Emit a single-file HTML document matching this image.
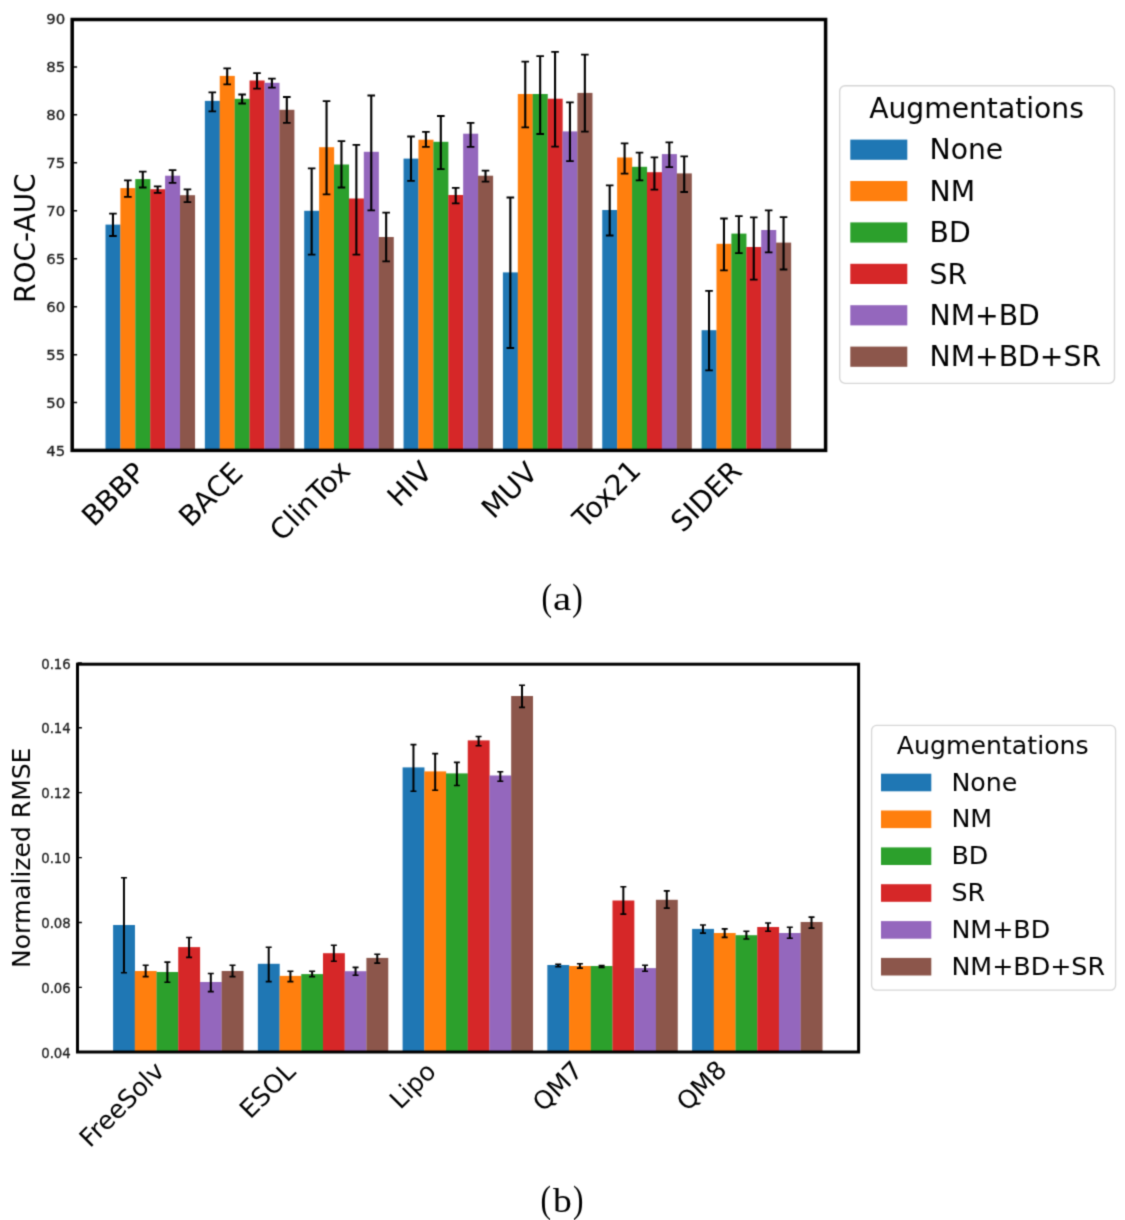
<!DOCTYPE html>
<html lang="en"><head><meta charset="utf-8"><title>Augmentations</title>
<style>html,body{margin:0;padding:0;background:#fff}svg{display:block}text{font-family:'DejaVu Sans','Liberation Sans',sans-serif;fill:#000}.tk{fill:#1c1c1c;stroke:#1c1c1c;stroke-width:.3px}.cap{font-family:'Liberation Serif','DejaVu Serif',serif}</style>
</head><body>
<svg width="1125" height="1220" viewBox="0 0 1125 1220">
<defs><filter id="soft" x="0" y="0" width="1125" height="1220" filterUnits="userSpaceOnUse" color-interpolation-filters="sRGB"><feConvolveMatrix order="3" kernelMatrix="1 4 1 4 16 4 1 4 1" divisor="36" edgeMode="duplicate" preserveAlpha="true"/></filter></defs>
<rect width="1125" height="1220" fill="#fff"/>
<g filter="url(#soft)">
<rect x="-5" y="-5" width="1135" height="1230" fill="#fff"/>
<g id="chart-a">
<rect x="105.50" y="224.60" width="15.05" height="225.80" fill="#1f77b4"/>
<rect x="120.40" y="188.10" width="15.05" height="262.30" fill="#ff7f0e"/>
<rect x="135.31" y="179.10" width="15.05" height="271.30" fill="#2ca02c"/>
<rect x="150.21" y="189.20" width="15.05" height="261.20" fill="#d62728"/>
<rect x="165.11" y="175.70" width="15.05" height="274.70" fill="#9467bd"/>
<rect x="180.01" y="195.20" width="15.05" height="255.20" fill="#8c564b"/>
<rect x="204.85" y="100.90" width="15.05" height="349.50" fill="#1f77b4"/>
<rect x="219.75" y="75.90" width="15.05" height="374.50" fill="#ff7f0e"/>
<rect x="234.66" y="98.80" width="15.05" height="351.60" fill="#2ca02c"/>
<rect x="249.56" y="80.50" width="15.05" height="369.90" fill="#d62728"/>
<rect x="264.46" y="82.80" width="15.05" height="367.60" fill="#9467bd"/>
<rect x="279.36" y="109.80" width="15.05" height="340.60" fill="#8c564b"/>
<rect x="304.20" y="210.80" width="15.05" height="239.60" fill="#1f77b4"/>
<rect x="319.10" y="147.20" width="15.05" height="303.20" fill="#ff7f0e"/>
<rect x="334.00" y="164.50" width="15.05" height="285.90" fill="#2ca02c"/>
<rect x="348.91" y="198.50" width="15.05" height="251.90" fill="#d62728"/>
<rect x="363.81" y="151.80" width="15.05" height="298.60" fill="#9467bd"/>
<rect x="378.71" y="237.00" width="15.05" height="213.40" fill="#8c564b"/>
<rect x="403.55" y="158.60" width="15.05" height="291.80" fill="#1f77b4"/>
<rect x="418.45" y="139.70" width="15.05" height="310.70" fill="#ff7f0e"/>
<rect x="433.35" y="141.80" width="15.05" height="308.60" fill="#2ca02c"/>
<rect x="448.26" y="195.00" width="15.05" height="255.40" fill="#d62728"/>
<rect x="463.16" y="133.70" width="15.05" height="316.70" fill="#9467bd"/>
<rect x="478.06" y="175.70" width="15.05" height="274.70" fill="#8c564b"/>
<rect x="502.90" y="272.40" width="15.05" height="178.00" fill="#1f77b4"/>
<rect x="517.80" y="94.00" width="15.05" height="356.40" fill="#ff7f0e"/>
<rect x="532.70" y="94.00" width="15.05" height="356.40" fill="#2ca02c"/>
<rect x="547.61" y="98.70" width="15.05" height="351.70" fill="#d62728"/>
<rect x="562.51" y="131.40" width="15.05" height="319.00" fill="#9467bd"/>
<rect x="577.41" y="92.90" width="15.05" height="357.50" fill="#8c564b"/>
<rect x="602.25" y="210.00" width="15.05" height="240.40" fill="#1f77b4"/>
<rect x="617.15" y="157.50" width="15.05" height="292.90" fill="#ff7f0e"/>
<rect x="632.05" y="166.80" width="15.05" height="283.60" fill="#2ca02c"/>
<rect x="646.96" y="172.20" width="15.05" height="278.20" fill="#d62728"/>
<rect x="661.86" y="154.10" width="15.05" height="296.30" fill="#9467bd"/>
<rect x="676.76" y="173.40" width="15.05" height="277.00" fill="#8c564b"/>
<rect x="701.60" y="330.20" width="15.05" height="120.20" fill="#1f77b4"/>
<rect x="716.50" y="243.80" width="15.05" height="206.60" fill="#ff7f0e"/>
<rect x="731.40" y="233.60" width="15.05" height="216.80" fill="#2ca02c"/>
<rect x="746.31" y="247.00" width="15.05" height="203.40" fill="#d62728"/>
<rect x="761.21" y="230.00" width="15.05" height="220.40" fill="#9467bd"/>
<rect x="776.11" y="242.60" width="15.05" height="207.80" fill="#8c564b"/>
<path d="M112.95 213.60V236.00M127.85 180.40V196.80M142.76 171.60V187.50M157.66 186.40V192.90M172.56 170.10V182.80M187.46 189.40V202.20M212.30 92.30V111.30M227.20 68.40V84.30M242.11 94.50V103.50M257.01 73.10V88.60M271.91 78.70V87.60M286.81 97.00V122.90M311.65 168.30V254.70M326.55 101.10V194.40M341.46 141.20V187.50M356.36 144.90V254.70M371.26 95.50V210.30M386.16 212.70V261.30M411.00 136.50V180.80M425.90 131.90V146.80M440.81 116.00V169.20M455.71 187.90V203.40M470.61 122.90V146.80M485.51 170.70V181.70M510.35 197.50V348.00M525.25 61.70V127.40M540.16 56.10V134.00M555.06 51.80V146.70M569.96 102.40V161.20M584.86 54.60V131.70M609.70 185.30V235.50M624.60 143.30V173.70M639.51 152.60V180.30M654.41 157.30V189.60M669.31 142.40V167.20M684.21 156.40V192.00M709.05 290.90V370.30M723.95 218.50V270.30M738.86 216.10V253.10M753.76 217.40V279.70M768.66 210.40V252.40M783.56 217.10V269.50" stroke="#000" stroke-width="2.1" fill="none"/>
<path d="M109.15 213.60H116.75M109.15 236.00H116.75M124.05 180.40H131.65M124.05 196.80H131.65M138.96 171.60H146.56M138.96 187.50H146.56M153.86 186.40H161.46M153.86 192.90H161.46M168.76 170.10H176.36M168.76 182.80H176.36M183.66 189.40H191.26M183.66 202.20H191.26M208.50 92.30H216.10M208.50 111.30H216.10M223.40 68.40H231.00M223.40 84.30H231.00M238.31 94.50H245.91M238.31 103.50H245.91M253.21 73.10H260.81M253.21 88.60H260.81M268.11 78.70H275.71M268.11 87.60H275.71M283.01 97.00H290.61M283.01 122.90H290.61M307.85 168.30H315.45M307.85 254.70H315.45M322.75 101.10H330.35M322.75 194.40H330.35M337.66 141.20H345.26M337.66 187.50H345.26M352.56 144.90H360.16M352.56 254.70H360.16M367.46 95.50H375.06M367.46 210.30H375.06M382.36 212.70H389.96M382.36 261.30H389.96M407.20 136.50H414.80M407.20 180.80H414.80M422.10 131.90H429.70M422.10 146.80H429.70M437.01 116.00H444.61M437.01 169.20H444.61M451.91 187.90H459.51M451.91 203.40H459.51M466.81 122.90H474.41M466.81 146.80H474.41M481.71 170.70H489.31M481.71 181.70H489.31M506.55 197.50H514.15M506.55 348.00H514.15M521.45 61.70H529.05M521.45 127.40H529.05M536.36 56.10H543.96M536.36 134.00H543.96M551.26 51.80H558.86M551.26 146.70H558.86M566.16 102.40H573.76M566.16 161.20H573.76M581.06 54.60H588.66M581.06 131.70H588.66M605.90 185.30H613.50M605.90 235.50H613.50M620.80 143.30H628.40M620.80 173.70H628.40M635.71 152.60H643.31M635.71 180.30H643.31M650.61 157.30H658.21M650.61 189.60H658.21M665.51 142.40H673.11M665.51 167.20H673.11M680.41 156.40H688.01M680.41 192.00H688.01M705.25 290.90H712.85M705.25 370.30H712.85M720.15 218.50H727.75M720.15 270.30H727.75M735.06 216.10H742.66M735.06 253.10H742.66M749.96 217.40H757.56M749.96 279.70H757.56M764.86 210.40H772.46M764.86 252.40H772.46M779.76 217.10H787.36M779.76 269.50H787.36" stroke="#000" stroke-width="1.8" fill="none"/>
<rect x="72.2" y="19.5" width="753.40" height="430.90" fill="none" stroke="#000" stroke-width="3.5"/>
<text class="tk" x="65.2" y="24.3" font-size="14.9" text-anchor="end">90</text>
<text class="tk" x="65.2" y="72.3" font-size="14.9" text-anchor="end">85</text>
<text class="tk" x="65.2" y="120.3" font-size="14.9" text-anchor="end">80</text>
<text class="tk" x="65.2" y="168.2" font-size="14.9" text-anchor="end">75</text>
<text class="tk" x="65.2" y="216.2" font-size="14.9" text-anchor="end">70</text>
<text class="tk" x="65.2" y="264.1" font-size="14.9" text-anchor="end">65</text>
<text class="tk" x="65.2" y="312.1" font-size="14.9" text-anchor="end">60</text>
<text class="tk" x="65.2" y="360.1" font-size="14.9" text-anchor="end">55</text>
<text class="tk" x="65.2" y="408.0" font-size="14.9" text-anchor="end">50</text>
<text class="tk" x="65.2" y="456.0" font-size="14.9" text-anchor="end">45</text>
<path d="M72.2 18.94h4.9M72.2 66.9h4.9M72.2 114.86h4.9M72.2 162.82h4.9M72.2 210.78h4.9M72.2 258.74h4.9M72.2 306.7h4.9M72.2 354.66h4.9M72.2 402.62h4.9M72.2 450.58h4.9" stroke="#000" stroke-width="1.5"/>
<text transform="translate(35.3,238.2) rotate(-90)" font-size="28" text-anchor="middle">ROC-AUC</text>
<text transform="translate(147,474.5) rotate(-45)" font-size="28.3" text-anchor="end">BBBP</text>
<text transform="translate(244.4,474.5) rotate(-45)" font-size="28.3" text-anchor="end">BACE</text>
<text transform="translate(351.8,472.5) rotate(-45)" font-size="28.3" text-anchor="end">ClinTox</text>
<text transform="translate(433.8,473.5) rotate(-45)" font-size="28.3" text-anchor="end">HIV</text>
<text transform="translate(539.2,474.3) rotate(-45)" font-size="28.3" text-anchor="end">MUV</text>
<text transform="translate(642.5,472.1) rotate(-45)" font-size="28.3" text-anchor="end">Tox21</text>
<text transform="translate(743.4,472.9) rotate(-45)" font-size="28.3" text-anchor="end">SIDER</text>
<rect x="839.7" y="85.7" width="274.8" height="297.7" rx="5.5" fill="#fff" stroke="#d6d6d6" stroke-width="1.4"/>
<text x="976.5" y="118" font-size="28.2" text-anchor="middle">Augmentations</text>
<rect x="850.3" y="139.6" width="57" height="20.2" fill="#1f77b4"/>
<text x="929.5" y="159.3" font-size="28.25">None</text>
<rect x="850.3" y="181.0" width="57" height="20.2" fill="#ff7f0e"/>
<text x="929.5" y="200.7" font-size="28.25">NM</text>
<rect x="850.3" y="222.4" width="57" height="20.2" fill="#2ca02c"/>
<text x="929.5" y="242.1" font-size="28.25">BD</text>
<rect x="850.3" y="263.8" width="57" height="20.2" fill="#d62728"/>
<text x="929.5" y="283.5" font-size="28.25">SR</text>
<rect x="850.3" y="305.2" width="57" height="20.2" fill="#9467bd"/>
<text x="929.5" y="324.9" font-size="28.25">NM+BD</text>
<rect x="850.3" y="346.6" width="57" height="20.2" fill="#8c564b"/>
<text x="929.5" y="366.3" font-size="28.25">NM+BD+SR</text>
<text class="cap" y="609.6" font-size="38.5"><tspan x="541.6" textLength="10.5" lengthAdjust="spacingAndGlyphs">(</tspan><tspan x="552.9" font-size="33.6" textLength="18.2" lengthAdjust="spacingAndGlyphs">a</tspan><tspan x="572.2" font-size="38.5" textLength="10.5" lengthAdjust="spacingAndGlyphs">)</tspan></text>
</g>
<g id="chart-b">
<rect x="113.10" y="925.00" width="21.86" height="127.00" fill="#1f77b4"/>
<rect x="134.81" y="971.00" width="21.86" height="81.00" fill="#ff7f0e"/>
<rect x="156.52" y="972.00" width="21.86" height="80.00" fill="#2ca02c"/>
<rect x="178.24" y="947.10" width="21.86" height="104.90" fill="#d62728"/>
<rect x="199.95" y="982.00" width="21.86" height="70.00" fill="#9467bd"/>
<rect x="221.66" y="971.00" width="21.86" height="81.00" fill="#8c564b"/>
<rect x="257.85" y="963.80" width="21.86" height="88.20" fill="#1f77b4"/>
<rect x="279.56" y="975.90" width="21.86" height="76.10" fill="#ff7f0e"/>
<rect x="301.28" y="974.10" width="21.86" height="77.90" fill="#2ca02c"/>
<rect x="322.99" y="953.20" width="21.86" height="98.80" fill="#d62728"/>
<rect x="344.70" y="971.20" width="21.86" height="80.80" fill="#9467bd"/>
<rect x="366.41" y="957.90" width="21.86" height="94.10" fill="#8c564b"/>
<rect x="402.60" y="767.40" width="21.86" height="284.60" fill="#1f77b4"/>
<rect x="424.31" y="771.40" width="21.86" height="280.60" fill="#ff7f0e"/>
<rect x="446.03" y="773.40" width="21.86" height="278.60" fill="#2ca02c"/>
<rect x="467.74" y="740.40" width="21.86" height="311.60" fill="#d62728"/>
<rect x="489.45" y="775.50" width="21.86" height="276.50" fill="#9467bd"/>
<rect x="511.16" y="696.00" width="21.86" height="356.00" fill="#8c564b"/>
<rect x="547.35" y="965.00" width="21.86" height="87.00" fill="#1f77b4"/>
<rect x="569.06" y="966.00" width="21.86" height="86.00" fill="#ff7f0e"/>
<rect x="590.77" y="966.00" width="21.86" height="86.00" fill="#2ca02c"/>
<rect x="612.49" y="900.50" width="21.86" height="151.50" fill="#d62728"/>
<rect x="634.20" y="968.10" width="21.86" height="83.90" fill="#9467bd"/>
<rect x="655.91" y="899.80" width="21.86" height="152.20" fill="#8c564b"/>
<rect x="692.10" y="928.90" width="21.86" height="123.10" fill="#1f77b4"/>
<rect x="713.81" y="933.00" width="21.86" height="119.00" fill="#ff7f0e"/>
<rect x="735.52" y="935.20" width="21.86" height="116.80" fill="#2ca02c"/>
<rect x="757.24" y="927.00" width="21.86" height="125.00" fill="#d62728"/>
<rect x="778.95" y="933.00" width="21.86" height="119.00" fill="#9467bd"/>
<rect x="800.66" y="922.00" width="21.86" height="130.00" fill="#8c564b"/>
<path d="M123.96 877.80V972.70M145.67 965.30V976.60M167.38 962.10V982.30M189.09 937.50V957.40M210.81 973.50V991.60M232.52 965.30V976.60M268.71 947.20V981.60M290.42 971.20V981.60M312.13 971.20V976.60M333.84 945.30V961.30M355.56 967.40V975.20M377.27 954.30V963.10M413.46 744.60V791.20M435.17 753.60V790.20M456.88 762.40V785.50M478.59 736.50V745.80M500.31 771.70V781.20M522.02 685.30V707.40M558.21 964.30V966.70M579.92 963.80V968.10M601.63 965.50V967.40M623.34 886.70V914.10M645.06 965.30V971.20M666.77 890.90V908.10M702.96 925.00V933.10M724.67 928.90V937.40M746.38 931.30V939.00M768.09 923.00V931.30M789.81 927.20V938.20M811.52 917.10V928.10" stroke="#000" stroke-width="2.0" fill="none"/>
<path d="M120.96 877.80H126.96M120.96 972.70H126.96M142.67 965.30H148.67M142.67 976.60H148.67M164.38 962.10H170.38M164.38 982.30H170.38M186.09 937.50H192.09M186.09 957.40H192.09M207.81 973.50H213.81M207.81 991.60H213.81M229.52 965.30H235.52M229.52 976.60H235.52M265.71 947.20H271.71M265.71 981.60H271.71M287.42 971.20H293.42M287.42 981.60H293.42M309.13 971.20H315.13M309.13 976.60H315.13M330.84 945.30H336.84M330.84 961.30H336.84M352.56 967.40H358.56M352.56 975.20H358.56M374.27 954.30H380.27M374.27 963.10H380.27M410.46 744.60H416.46M410.46 791.20H416.46M432.17 753.60H438.17M432.17 790.20H438.17M453.88 762.40H459.88M453.88 785.50H459.88M475.59 736.50H481.59M475.59 745.80H481.59M497.31 771.70H503.31M497.31 781.20H503.31M519.02 685.30H525.02M519.02 707.40H525.02M555.21 964.30H561.21M555.21 966.70H561.21M576.92 963.80H582.92M576.92 968.10H582.92M598.63 965.50H604.63M598.63 967.40H604.63M620.34 886.70H626.34M620.34 914.10H626.34M642.06 965.30H648.06M642.06 971.20H648.06M663.77 890.90H669.77M663.77 908.10H669.77M699.96 925.00H705.96M699.96 933.10H705.96M721.67 928.90H727.67M721.67 937.40H727.67M743.38 931.30H749.38M743.38 939.00H749.38M765.09 923.00H771.09M765.09 931.30H771.09M786.81 927.20H792.81M786.81 938.20H792.81M808.52 917.10H814.52M808.52 928.10H814.52" stroke="#000" stroke-width="1.6" fill="none"/>
<rect x="77.5" y="664.2" width="781.10" height="387.80" fill="none" stroke="#000" stroke-width="3.0"/>
<text class="tk" x="70.8" y="668.6" font-size="13.3" text-anchor="end">0.16</text>
<text class="tk" x="70.8" y="733.3" font-size="13.3" text-anchor="end">0.14</text>
<text class="tk" x="70.8" y="798.2" font-size="13.3" text-anchor="end">0.12</text>
<text class="tk" x="70.8" y="863.2" font-size="13.3" text-anchor="end">0.10</text>
<text class="tk" x="70.8" y="928.1" font-size="13.3" text-anchor="end">0.08</text>
<text class="tk" x="70.8" y="992.9" font-size="13.3" text-anchor="end">0.06</text>
<text class="tk" x="70.8" y="1057.6" font-size="13.3" text-anchor="end">0.04</text>
<path d="M77.5 663.0h4.4M77.5 727.7h4.4M77.5 792.6h4.4M77.5 857.6h4.4M77.5 922.5h4.4M77.5 987.3h4.4M77.5 1052.0h4.4" stroke="#000" stroke-width="1.35"/>
<text transform="translate(29.8,857.8) rotate(-90)" font-size="25" text-anchor="middle">Normalized RMSE</text>
<text transform="translate(165.9,1072.7) rotate(-45)" font-size="25.3" text-anchor="end">FreeSolv</text>
<text transform="translate(296.9,1073) rotate(-45)" font-size="25.3" text-anchor="end">ESOL</text>
<text transform="translate(437.4,1073) rotate(-45)" font-size="25.3" text-anchor="end">Lipo</text>
<text transform="translate(584.2,1071.9) rotate(-45)" font-size="25.3" text-anchor="end">QM7</text>
<text transform="translate(728.1,1071.4) rotate(-45)" font-size="25.3" text-anchor="end">QM8</text>
<rect x="871.6" y="725.4" width="244" height="264.8" rx="5" fill="#fff" stroke="#d6d6d6" stroke-width="1.3"/>
<text x="992.7" y="753.8" font-size="25.2" text-anchor="middle">Augmentations</text>
<rect x="881" y="773.7" width="50.3" height="17.6" fill="#1f77b4"/>
<text x="951.4" y="790.6" font-size="25.3">None</text>
<rect x="881" y="810.5" width="50.3" height="17.6" fill="#ff7f0e"/>
<text x="951.4" y="827.4" font-size="25.3">NM</text>
<rect x="881" y="847.4" width="50.3" height="17.6" fill="#2ca02c"/>
<text x="951.4" y="864.3" font-size="25.3">BD</text>
<rect x="881" y="884.2" width="50.3" height="17.6" fill="#d62728"/>
<text x="951.4" y="901.1" font-size="25.3">SR</text>
<rect x="881" y="921.1" width="50.3" height="17.6" fill="#9467bd"/>
<text x="951.4" y="938.0" font-size="25.3">NM+BD</text>
<rect x="881" y="957.9" width="50.3" height="17.6" fill="#8c564b"/>
<text x="951.4" y="974.8" font-size="25.3">NM+BD+SR</text>
<text class="cap" y="1211.7" font-size="38.5"><tspan x="540.5" textLength="10.5" lengthAdjust="spacingAndGlyphs">(</tspan><tspan x="553" font-size="34.3" textLength="18.8" lengthAdjust="spacingAndGlyphs">b</tspan><tspan x="573.1" font-size="38.5" textLength="10.5" lengthAdjust="spacingAndGlyphs">)</tspan></text>
</g>
</g>
</svg></body></html>
